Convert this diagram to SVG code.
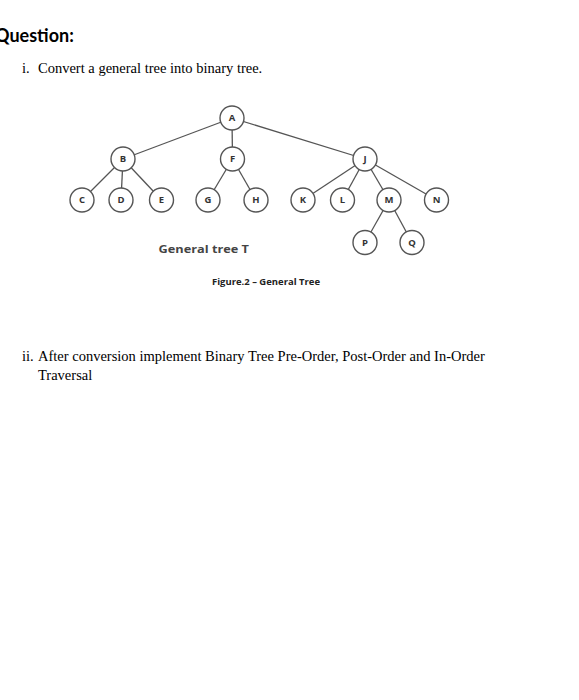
<svg xmlns="http://www.w3.org/2000/svg" width="579" height="700" viewBox="0 0 579 700">
<style>
.serif{font-family:"Liberation Serif","Times New Roman",serif;font-size:14.5px;fill:#000}
.nd circle{fill:#fff;stroke:#555;stroke-width:1.4}
.nd text{font-family:"Open Sans","DejaVu Sans",sans-serif;font-weight:bold;font-size:9.5px;fill:#333;text-anchor:middle}
#edges line{stroke:#555;stroke-width:1.3}
</style>
<rect width="579" height="700" fill="#fff"/>
<text x="-5" y="42" font-family="Lato,'Open Sans',sans-serif" font-weight="bold" font-size="18" fill="#000">Question:</text>
<text class="serif" x="22" y="73">i.</text>
<text class="serif" x="38" y="73">Convert a general tree into binary tree.</text>
<g id="edges">
<line x1="232" y1="118" x2="123" y2="159"/>
<line x1="232" y1="118" x2="232.5" y2="159"/>
<line x1="232" y1="118" x2="365" y2="159"/>
<line x1="123" y1="159" x2="82" y2="200"/>
<line x1="123" y1="159" x2="121" y2="200"/>
<line x1="123" y1="159" x2="161.5" y2="200"/>
<line x1="232.5" y1="159" x2="208" y2="200"/>
<line x1="232.5" y1="159" x2="256" y2="200"/>
<line x1="365" y1="159" x2="303" y2="200"/>
<line x1="365" y1="159" x2="342.5" y2="200"/>
<line x1="365" y1="159" x2="389" y2="200"/>
<line x1="365" y1="159" x2="436.5" y2="200"/>
<line x1="389" y1="200" x2="365" y2="242.5"/>
<line x1="389" y1="200" x2="412" y2="242.5"/>
</g>
<g id="A" class="nd"><circle cx="232" cy="118" r="12"/><text x="232" y="121.4">A</text></g>
<g id="B" class="nd"><circle cx="123" cy="159" r="12"/><text x="123" y="162.4">B</text></g>
<g id="F" class="nd"><circle cx="232.5" cy="159" r="12"/><text x="232.5" y="162.4">F</text></g>
<g id="J" class="nd"><circle cx="365" cy="159" r="12"/><text x="365" y="162.4">J</text></g>
<g id="C" class="nd"><circle cx="82" cy="200" r="12"/><text x="82" y="203.4">C</text></g>
<g id="D" class="nd"><circle cx="121" cy="200" r="12"/><text x="121" y="203.4">D</text></g>
<g id="E" class="nd"><circle cx="161.5" cy="200" r="12"/><text x="161.5" y="203.4">E</text></g>
<g id="G" class="nd"><circle cx="208" cy="200" r="12"/><text x="208" y="203.4">G</text></g>
<g id="H" class="nd"><circle cx="256" cy="200" r="12"/><text x="256" y="203.4">H</text></g>
<g id="K" class="nd"><circle cx="303" cy="200" r="12"/><text x="303" y="203.4">K</text></g>
<g id="L" class="nd"><circle cx="342.5" cy="200" r="12"/><text x="342.5" y="203.4">L</text></g>
<g id="M" class="nd"><circle cx="389" cy="200" r="12"/><text x="389" y="203.4">M</text></g>
<g id="N" class="nd"><circle cx="436.5" cy="200" r="12"/><text x="436.5" y="203.4">N</text></g>
<g id="P" class="nd"><circle cx="365" cy="242.5" r="12"/><text x="365" y="245.9">P</text></g>
<g id="Q" class="nd"><circle cx="412" cy="242.5" r="12"/><text x="412" y="245.9">Q</text></g>
<text x="158.5" y="253.3" font-family="'Open Sans','DejaVu Sans',sans-serif" font-weight="bold" font-size="11" fill="#444" textLength="90.5" lengthAdjust="spacingAndGlyphs">General tree T</text>
<text x="212" y="285" font-family="'Open Sans','DejaVu Sans',sans-serif" font-weight="bold" font-size="8.5" fill="#222" textLength="108" lengthAdjust="spacingAndGlyphs">Figure.2 – General Tree</text>
<text class="serif" x="22" y="361">ii.</text>
<text class="serif" x="38" y="361">After conversion implement Binary Tree Pre-Order, Post-Order and In-Order</text>
<text class="serif" x="38" y="379.5">Traversal</text>
</svg>
